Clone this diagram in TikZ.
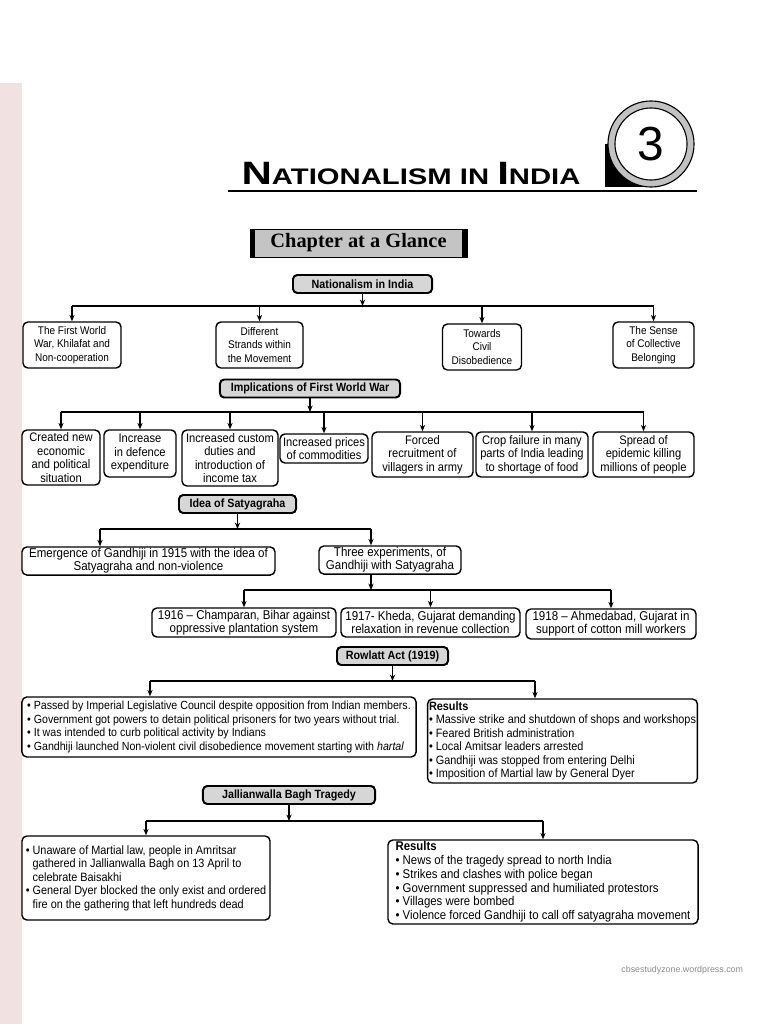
\documentclass[tikz,border=0pt]{standalone}
\usepackage{fontspec}
\setmainfont{Liberation Sans}[FakeStretch=0.9]
\newfontfamily\titlefont{Liberation Sans}[FakeStretch=1.3]
\newfontfamily\numberfont{Liberation Sans}
\newfontfamily\glancefont{Liberation Serif}
\newfontfamily\markfont{Liberation Sans}
\usepackage{tikz}
\usetikzlibrary{
  arrows.meta,
  positioning
}
\definecolor{HeadGray}{HTML}{D6D6D6}
\definecolor{GlanceGray}{HTML}{C4C4C4}
\definecolor{RingGray}{HTML}{C2C2C2}
\definecolor{ScanPink}{HTML}{F1E1E1}
\definecolor{MarkGray}{HTML}{8C8C8C}
\newcommand{\bul}{\textbullet\ }
\newcommand{\bulgap}{\hphantom{\textbullet\ }}
\tikzset{
  box/.style={
    draw,
    rounded corners=3.5pt,
    line width=1pt,
    align=center,
    inner sep=1pt,
    font=\fontsize{8.6}{9.6}\selectfont
  },
  topic/.style={
    box,
    fill=white
  },
  notes/.style={
    box,
    align=left,
    fill=white
  },
  smallprint/.style={
    font=\fontsize{7.9}{9.6}\selectfont
  },
  midprint/.style={
    font=\fontsize{8.8}{9.6}\selectfont
  },
  largeprint/.style={
    font=\fontsize{9.1}{9.5}\selectfont
  },
  heading/.style={
    draw,
    rounded corners=3pt,
    line width=1.4pt,
    fill=HeadGray,
    inner sep=1pt,
    minimum height=0.45cm,
    font=\bfseries\fontsize{8.5}{9.6}\selectfont
  },
  bar/.style={
    line width=0.8pt
  },
  connection/.style={
    -{Stealth[length=1.6mm,width=1.3mm]},
    line width=0.8pt
  }
}

\begin{document}
\begin{tikzpicture}[x=0.025cm, y=-0.025cm]

  \useasboundingbox (0,0) rectangle (768,1024);
  \fill[white] (0,0) rectangle (768,1024);
  \fill[ScanPink] (0,83) rectangle (22,1024);

  % chapter header
  \node[
    font=\titlefont\bfseries,
    anchor=base
  ] (title) at (411,185) {%
    {\fontsize{23}{23}\selectfont N}{\fontsize{16}{16}\selectfont ATIONALISM IN }%
    {\fontsize{23}{23}\selectfont I}{\fontsize{16}{16}\selectfont NDIA}%
  };

  \coordinate (ruleL) at (228,191);
  \coordinate (ruleR) at (697,191);

  \fill (605,144) rectangle (651,187);
  \node[
    circle,
    draw,
    line width=0.8pt,
    fill=RingGray,
    minimum size=2.15cm
  ] (chapRing) at (651,144) {};
  \node[
    circle,
    draw,
    line width=0.8pt,
    fill=white,
    minimum size=1.8cm,
    font=\numberfont\fontsize{34}{34}\selectfont
  ] (chapNum) at (chapRing) {3};

  \draw[line width=1pt] (ruleL) -- (ruleR);

  \node[
    draw,
    line width=0.6pt,
    fill=GlanceGray,
    minimum width=5.425cm,
    minimum height=0.7cm,
    font=\glancefont\bfseries\fontsize{14.5}{14.5}\selectfont
  ] (glance) at (358.5,243) {Chapter at a Glance};
  \fill (glance.north west) rectangle ([xshift=0.14cm]glance.south west);
  \fill (glance.north east) rectangle ([xshift=-0.14cm]glance.south east);

  % nationalism in india
  \node[heading, minimum width=3.475cm] (nat) at (362.5,284) {Nationalism in India};

  \node[topic, smallprint, minimum width=2.45cm, minimum height=1.15cm] (firstWar) at (72,345) {
    The First World\\War, Khilafat and\\Non-cooperation
  };
  \node[topic, smallprint, minimum width=2.175cm, minimum height=1.15cm] (strands) at (259.5,345) {
    Different\\Strands within\\the Movement
  };
  \node[topic, smallprint, minimum width=1.975cm, minimum height=1.15cm] (civil) at (482,347) {
    Towards\\Civil\\Disobedience
  };
  \node[topic, smallprint, minimum width=2.025cm, minimum height=1.15cm] (belonging) at (653.5,345) {
    The Sense\\of Collective\\Belonging
  };

  \coordinate (natBarL) at (72,306);
  \coordinate (natBarR) at (653.5,306);
  \draw[bar] (natBarL) -- (natBarR);
  \draw[connection] (nat) -- (nat |- natBarL);
  \foreach \n in {firstWar, strands, civil, belonging}
    \draw[connection] (\n.north |- natBarL) -- (\n);

  % implications of first world war
  \node[heading, minimum width=4.5cm] (impl) at (310,388.5) {Implications of First World War};

  \node[topic, midprint, minimum width=1.95cm, minimum height=1.375cm] (economic) at (61,457.5) {
    Created new\\economic\\and political\\situation
  };
  \node[topic, midprint, minimum width=1.8cm, minimum height=1.175cm] (defence) at (140,453.5) {
    Increase\\in defence\\expenditure
  };
  \node[topic, midprint, minimum width=2.4cm, minimum height=1.4cm] (customs) at (230,458) {
    Increased custom\\duties and\\introduction of\\income tax
  };
  \node[topic, midprint, minimum width=2.2cm, minimum height=0.725cm] (prices) at (324,448.5) {
    Increased prices\\of commodities
  };
  \node[topic, midprint, minimum width=2.525cm, minimum height=1.125cm] (recruit) at (422.5,454.5) {
    Forced\\recruitment of\\villagers in army
  };
  \node[topic, midprint, minimum width=2.8cm, minimum height=1.125cm] (crops) at (532,454.5) {
    Crop failure in many\\parts of India leading\\to shortage of food
  };
  \node[topic, midprint, minimum width=2.525cm, minimum height=1.125cm] (epidemic) at (643.5,454.5) {
    Spread of\\epidemic killing\\millions of people
  };

  \coordinate (implBarL) at (61,412);
  \coordinate (implBarR) at (643.5,412);
  \draw[bar] (implBarL) -- (implBarR);
  \draw[connection] (impl) -- (impl |- implBarL);
  \foreach \n in {economic, defence, customs, prices, recruit, crops, epidemic}
    \draw[connection] (\n.north |- implBarL) -- (\n);

  % idea of satyagraha
  \node[heading, minimum width=2.925cm] (satya) at (237.5,504) {Idea of Satyagraha};

  \node[topic, largeprint, minimum width=6.325cm, minimum height=0.7cm] (emerge) at (148.5,561) {
    Emergence of Gandhiji in 1915 with the idea of\\Satyagraha and non-violence
  };
  \node[topic, largeprint, minimum width=3.55cm, minimum height=0.65cm] (three) at (390,560) {
    Three experiments, of\\Gandhiji with Satyagraha
  };

  \coordinate (satBarL) at (100,529);
  \coordinate (satBarR) at (371,529);
  \draw[bar] (satBarL) -- (satBarR);
  \draw[connection] (satya) -- (satya |- satBarL);
  \draw[connection] (satBarL) -- (satBarL |- emerge.north);
  \draw[connection] (satBarR) -- (satBarR |- three.north);

  \node[topic, largeprint, minimum width=4.6cm, minimum height=0.725cm] (champaran) at (244,622.5) {
    1916 – Champaran, Bihar against\\oppressive plantation system
  };
  \node[topic, largeprint, minimum width=4.475cm, minimum height=0.725cm] (kheda) at (430.5,622.5) {
    1917- Kheda, Gujarat demanding\\relaxation in revenue collection
  };
  \node[topic, largeprint, minimum width=4.25cm, minimum height=0.75cm] (ahmedabad) at (611,624) {
    1918 – Ahmedabad, Gujarat in\\support of cotton mill workers
  };

  \coordinate (expBarL) at (244,590);
  \coordinate (expBarR) at (611,590);
  \draw[bar] (expBarL) -- (expBarR);
  \draw[connection] (satBarR |- three.south) -- (satBarR |- expBarL);
  \foreach \n in {champaran, kheda, ahmedabad}
    \draw[connection] (\n.north |- expBarL) -- (\n);

  % rowlatt act
  \node[heading, minimum width=2.775cm] (rowlatt) at (392.5,656) {Rowlatt Act (1919)};

  \node[notes, font=\fontsize{8.4}{9.6}\selectfont, minimum width=9.85cm, minimum height=1.5cm] (causes) at (219,727) {
    \bul Passed by Imperial Legislative Council despite opposition from Indian members.\\
    \bul Government got powers to detain political prisoners for two years without trial.\\
    \bul It was intended to curb political activity by Indians\\
    \bul Gandhiji launched Non-violent civil disobedience movement starting with \textit{hartal}
  };
  \node[notes, minimum width=6.725cm, minimum height=2.1cm] (rowResults) at (562.5,741) {
    \textbf{Results}\\
    \bul Massive strike and shutdown of shops and workshops\\
    \bul Feared British administration\\
    \bul Local Amitsar leaders arrested\\
    \bul Gandhiji was stopped from entering Delhi\\
    \bul Imposition of Martial law by General Dyer
  };

  \coordinate (rowBarL) at (150,681);
  \coordinate (rowBarR) at (535,681);
  \draw[bar] (rowBarL) -- (rowBarR);
  \draw[connection] (rowlatt) -- (rowlatt |- rowBarL);
  \draw[connection] (rowBarL) -- (rowBarL |- causes.north);
  \draw[connection] (rowBarR) -- (rowBarR |- rowResults.north);

  % jallianwalla bagh
  \node[heading, minimum width=4.3cm] (jallian) at (289,795) {Jallianwalla Bagh Tragedy};

  \node[notes, minimum width=6.2cm, minimum height=2.1cm] (massacre) at (146,878) {
    \bul Unaware of Martial law, people in Amritsar\\
    \bulgap gathered in Jallianwalla Bagh on 13 April to\\
    \bulgap celebrate Baisakhi\\
    \bul General Dyer blocked the only exist and ordered\\
    \bulgap fire on the gathering that left hundreds dead
  };
  \node[notes, font=\fontsize{9}{9.8}\selectfont, minimum width=7.75cm, minimum height=2.1cm] (jallResults) at (543,882) {
    \textbf{Results}\\
    \bul News of the tragedy spread to north India\\
    \bul Strikes and clashes with police began\\
    \bul Government suppressed and humiliated protestors\\
    \bul Villages were bombed\\
    \bul Violence forced Gandhiji to call off satyagraha movement
  };

  \coordinate (jallBarL) at (146,821);
  \coordinate (jallBarR) at (543,821);
  \draw[bar] (jallBarL) -- (jallBarR);
  \draw[connection] (jallian) -- (jallian |- jallBarL);
  \draw[connection] (jallBarL) -- (massacre);
  \draw[connection] (jallBarR) -- (jallResults);

  \node[
    font=\markfont\fontsize{6.3}{6.3}\selectfont,
    text=MarkGray,
    anchor=east
  ] (mark) at (748,970) {cbsestudyzone.wordpress.com};

\end{tikzpicture}
\end{document}
